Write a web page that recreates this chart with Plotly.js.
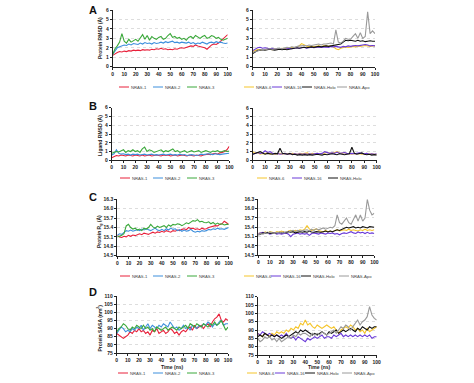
<!DOCTYPE html>
<html><head><meta charset="utf-8">
<script src="https://cdn.plot.ly/plotly-3.0.1.min.js"></script>
<style>html,body{margin:0;padding:0;background:#fff}#c{width:474px;height:383px}</style>
</head><body><div id="c"></div>
<script>
const time = [0,2,4,6,8,10,12,14,16,18,20,22,24,26,28,30,32,34,36,38,40,42,44,46,48,50,52,54,56,58,60,62,64,66,68,70,72,74,76,78,80,82,84,86,88,90,92,94,96,98,100];
const xTicks = [0,10,20,30,40,50,60,70,80,90,100];

// Panel A: Protein RMSD
const rmsdN1 = [1.2,1.4,1.5,1.6,1.55,1.65,1.6,1.7,1.65,1.75,1.7,1.75,1.7,1.8,1.75,1.8,1.75,1.85,1.8,1.9,1.85,1.95,1.85,1.9,1.8,1.85,1.8,1.9,1.85,1.95,2.0,1.95,2.05,2.1,2.2,2.15,2.3,2.2,2.15,2.05,2.0,1.85,2.1,2.3,2.4,2.35,2.5,2.7,2.9,3.1,3.4];
const rmsdN2 = [1.3,1.7,2.0,2.1,2.2,2.3,2.25,2.4,2.3,2.45,2.4,2.35,2.5,2.4,2.55,2.45,2.5,2.4,2.55,2.45,2.5,2.6,2.5,2.65,2.55,2.6,2.7,2.55,2.6,2.5,2.6,2.55,2.5,2.6,2.45,2.55,2.4,2.5,2.45,2.6,2.5,2.4,2.55,2.6,2.5,2.65,2.55,2.6,2.5,2.45,2.5];
const rmsdN3 = [1.3,1.9,2.2,2.6,3.5,2.7,2.5,2.9,2.6,2.8,2.9,2.7,3.1,3.4,2.9,3.3,2.8,3.2,3.0,2.9,3.1,3.2,2.9,3.0,3.3,3.5,3.1,3.2,3.0,3.1,2.9,3.0,2.8,3.1,3.2,3.0,3.3,3.1,3.0,3.2,3.3,3.0,3.1,3.3,3.2,3.0,3.1,2.9,2.8,2.9,3.0];
const rmsdN6 = [1.6,1.7,1.8,1.75,1.85,1.8,1.9,1.85,1.8,1.9,1.85,1.9,1.95,1.9,1.95,2.0,2.05,2.0,2.1,2.2,2.45,2.3,2.2,2.1,2.15,2.1,2.15,2.2,2.1,2.2,2.2,2.15,2.2,2.1,1.9,1.8,1.95,2.0,2.1,2.05,2.1,2.15,2.1,2.2,2.15,2.2,2.25,2.2,2.15,2.2,2.2];
const rmsdN16 = [1.7,1.9,2.0,2.05,1.95,2.0,1.95,1.9,1.95,1.85,1.9,1.85,1.9,1.85,1.9,1.95,1.9,1.95,2.0,1.95,2.0,2.05,1.95,2.0,2.05,2.0,2.05,2.1,2.05,2.1,2.1,2.05,2.15,2.1,2.15,2.1,2.05,2.15,2.1,2.2,2.15,2.2,2.25,2.2,2.25,2.3,2.35,2.3,2.2,2.25,2.2];
const rmsdHolo = [1.4,1.6,1.7,1.75,1.8,1.75,1.8,1.85,1.8,1.75,1.8,1.85,1.8,1.85,1.8,1.85,1.9,1.95,2.0,1.95,2.0,2.05,2.0,2.05,2.1,2.05,2.1,2.15,2.1,2.15,2.2,2.15,2.2,2.25,2.3,2.3,2.4,2.6,2.8,2.75,2.8,2.75,2.7,2.8,2.7,2.75,2.65,2.7,2.75,2.7,2.7];
const rmsdApo = [1.5,1.6,1.7,1.8,1.85,1.8,1.85,1.9,1.85,1.9,1.9,1.95,1.9,2.0,2.05,2.0,2.1,2.05,2.15,2.2,2.2,2.25,2.2,2.3,2.25,2.3,2.35,2.4,2.3,2.4,2.4,2.45,2.5,2.4,3.9,2.6,2.5,2.7,3.0,2.9,2.9,3.2,3.5,3.0,3.6,3.0,3.2,5.8,3.5,3.8,3.5];

// Panel B: Ligand RMSD
const ligN1 = [0.3,0.45,0.55,0.5,0.6,0.55,0.5,0.6,0.55,0.5,0.6,0.55,0.5,0.6,0.5,0.55,0.6,0.5,0.55,0.6,0.55,0.5,0.6,0.55,0.6,0.5,0.55,0.6,0.5,0.55,0.6,0.55,0.5,0.6,0.55,0.5,0.6,0.55,0.5,0.6,0.65,0.7,0.65,0.75,0.8,0.7,0.85,0.9,1.0,1.2,1.6];
const ligN2 = [0.6,0.75,1.2,0.8,0.7,0.75,0.65,0.7,0.6,0.7,0.65,0.7,0.6,0.65,0.7,0.6,0.65,0.7,0.6,0.65,0.6,0.65,0.7,0.6,0.65,0.7,0.6,0.65,0.6,0.7,0.6,0.65,0.55,0.6,0.65,0.6,0.55,0.6,0.7,0.65,0.7,0.75,0.7,0.65,0.75,0.7,0.65,0.7,0.75,0.8,0.8];
const ligN3 = [0.8,0.9,1.0,0.95,1.1,1.2,0.9,1.1,1.0,1.2,1.0,1.1,0.9,1.3,1.5,1.0,1.2,1.1,0.9,1.0,1.1,1.2,0.95,1.1,1.0,1.2,1.3,1.0,1.1,0.9,1.0,1.1,0.9,1.0,1.1,0.95,1.05,1.1,0.9,1.0,1.1,1.0,0.9,1.05,1.0,1.1,0.95,1.0,1.1,1.0,1.05];
const ligN6 = [1.0,0.8,0.9,0.7,0.8,0.75,0.9,0.7,0.8,0.7,0.75,0.8,0.7,0.8,0.75,0.7,0.8,0.75,0.7,0.8,0.75,0.8,0.85,0.7,0.8,0.75,0.8,0.7,0.75,0.8,0.9,0.85,0.8,0.9,1.0,0.85,0.8,0.9,0.75,0.8,0.7,0.8,0.75,0.8,0.7,0.75,0.8,0.7,0.75,0.7,0.7];
const ligN16 = [0.7,0.8,0.9,0.8,0.85,1.1,0.9,1.0,0.8,0.75,0.8,0.7,0.75,0.8,0.7,0.75,0.7,0.75,0.7,0.75,0.7,0.75,0.7,0.75,0.7,0.75,0.8,0.75,0.8,1.0,0.9,0.8,0.85,0.8,0.95,0.8,0.85,0.9,0.8,0.75,0.8,0.75,0.8,0.85,0.8,0.75,0.8,0.7,0.75,0.7,0.75];
const ligHolo = [0.7,0.8,0.9,1.0,0.85,0.7,0.8,0.75,0.7,0.8,0.75,1.4,0.8,0.75,0.7,0.8,0.65,0.7,0.6,0.65,0.6,0.65,0.6,0.65,0.6,0.65,0.7,0.65,0.6,0.7,0.65,0.7,0.75,0.7,0.65,0.75,0.7,0.65,0.7,0.75,1.5,0.8,0.7,0.75,0.85,0.7,0.65,0.7,0.6,0.65,0.6];

// Panel C: Protein Rg
const rgN1 = [15.15,15.1,15.08,15.12,15.1,15.15,15.12,15.16,15.14,15.18,15.2,15.17,15.22,15.2,15.18,15.22,15.25,15.22,15.26,15.24,15.28,15.25,15.3,15.27,15.25,15.3,15.28,15.32,15.3,15.34,15.36,15.33,15.4,15.36,15.38,15.34,15.36,15.33,15.38,15.35,15.36,15.4,15.42,15.44,15.46,15.45,15.5,15.52,15.6,15.55,15.5];
const rgN2 = [15.15,15.2,15.18,15.25,15.3,15.28,15.32,15.28,15.3,15.33,15.3,15.35,15.32,15.36,15.33,15.3,15.34,15.38,15.32,15.3,15.34,15.3,15.36,15.32,15.38,15.34,15.36,15.3,15.33,15.28,15.32,15.28,15.3,15.34,15.28,15.25,15.28,15.26,15.3,15.28,15.3,15.34,15.32,15.36,15.34,15.38,15.35,15.36,15.34,15.38,15.4];
const rgN3 = [15.1,15.12,15.15,15.2,15.45,15.5,15.4,15.35,15.38,15.32,15.35,15.3,15.38,15.35,15.4,15.5,15.42,15.38,15.44,15.4,15.42,15.46,15.4,15.48,15.44,15.5,15.48,15.52,15.5,15.46,15.5,15.55,15.52,15.58,15.62,15.6,15.65,15.58,15.6,15.56,15.55,15.58,15.52,15.56,15.5,15.54,15.5,15.52,15.48,15.5,15.5];
const rgN6 = [15.2,15.22,15.2,15.25,15.22,15.26,15.24,15.22,15.26,15.24,15.28,15.25,15.22,15.28,15.3,15.26,15.3,15.28,15.32,15.3,15.34,15.45,15.35,15.3,15.32,15.35,15.3,15.28,15.25,15.3,15.26,15.28,15.25,15.3,15.32,15.28,15.3,15.32,15.3,15.34,15.3,15.32,15.3,15.28,15.32,15.3,15.34,15.3,15.32,15.3,15.32];
const rgN16 = [15.2,15.22,15.24,15.2,15.22,15.18,15.2,15.22,15.18,15.2,15.18,15.2,15.22,15.18,15.1,15.18,15.2,15.22,15.18,15.2,15.18,15.2,15.14,15.2,15.22,15.2,15.18,15.22,15.2,15.18,15.22,15.2,15.22,15.18,15.2,15.16,15.2,15.22,15.2,15.24,15.26,15.22,15.2,15.25,15.22,15.24,15.2,15.24,15.2,15.22,15.2];
const rgHolo = [15.15,15.18,15.22,15.2,15.24,15.2,15.22,15.2,15.22,15.24,15.22,15.24,15.22,15.26,15.24,15.26,15.22,15.25,15.26,15.24,15.26,15.24,15.27,15.25,15.24,15.26,15.25,15.24,15.26,15.28,15.25,15.28,15.26,15.3,15.32,15.3,15.34,15.36,15.4,15.38,15.4,15.42,15.38,15.4,15.38,15.42,15.4,15.38,15.42,15.4,15.4];
const rgApo = [15.15,15.2,15.18,15.22,15.2,15.25,15.22,15.2,15.24,15.22,15.25,15.22,15.26,15.24,15.28,15.3,15.26,15.3,15.28,15.3,15.3,15.32,15.28,15.34,15.3,15.35,15.32,15.35,15.38,15.34,15.36,15.4,15.38,15.45,15.8,15.55,15.5,15.6,15.7,15.55,15.5,15.65,15.8,15.6,15.8,15.6,15.7,16.3,15.95,15.8,15.85];

// Panel D: Protein SASA
const sasaN1 = [87,86,85,84,85,86,88,87,89,88,90,88,89,87,88,86,89,88,90,87,88,89,87,88,90,89,87,88,86,88,89,88,90,91,89,92,90,91,92,90,92,93,91,94,96,97,99,95,94,96,95];
const sasaN2 = [87,89,91,90,88,89,88,90,89,91,90,92,89,91,93,90,92,91,90,92,91,93,92,91,94,92,90,91,89,90,92,90,91,89,92,91,90,92,91,93,92,94,93,91,93,92,94,95,92,93,93];
const sasaN3 = [88,90,91,93,92,90,89,91,90,92,91,90,92,90,91,89,90,88,91,90,89,90,91,89,90,91,90,89,91,90,91,92,90,93,92,91,93,92,91,93,92,91,93,92,94,92,93,95,92,89,91];
const sasaN6 = [88,87,86,88,87,86,88,87,89,88,89,88,90,89,91,90,92,91,94,93,96,93,94,92,91,93,92,91,92,93,92,91,92,90,88,90,91,92,91,93,92,90,91,89,90,88,91,89,90,91,92];
const sasaN16 = [88,87,89,88,87,88,87,86,87,86,87,86,88,86,85,86,84,86,85,84,83,85,84,85,86,85,86,87,85,86,86,85,87,86,87,88,86,87,86,87,86,87,86,87,86,87,86,87,85,86,86];
const sasaHolo = [86,87,86,88,87,86,87,86,87,86,85,86,87,86,87,88,89,88,90,89,90,89,88,87,88,87,88,89,88,87,89,88,89,90,88,89,90,89,90,91,90,89,91,90,92,91,90,92,91,92,92];
const sasaApo = [85,83,84,86,85,86,84,85,83,85,83,84,85,86,85,87,86,88,87,88,88,87,86,88,87,88,87,89,88,87,88,89,90,88,90,92,91,93,92,90,92,94,96,93,95,96,98,104,99,97,96];

const colors = {'NRAS-1':'#e8203a','NRAS-2':'#3d8fdc','NRAS-3':'#3aa83a','NRAS-6':'#f5c52a','NRAS-16':'#6a3ad8','NRAS-Holo':'#111111','NRAS-Apo':'#9a9a9a'};

const W = 474, H = 383;
const FONT = 'Liberation Sans, Arial, sans-serif';

// panel geometry in pixels: [x0,x1,yTop,yBottom]; legend: y and sample start x for each entry
const panels = [
  {px:[112.7,227.7,10,66.7], yr:[0,6], dt:1, fmt:'', series:[['NRAS-1',rmsdN1],['NRAS-2',rmsdN2],['NRAS-3',rmsdN3]], legY:87, legX:[119,153,187]},
  {px:[252.7,375,10,66.7], yr:[0,6], dt:1, fmt:'', series:[['NRAS-6',rmsdN6],['NRAS-16',rmsdN16],['NRAS-Holo',rmsdHolo],['NRAS-Apo',rmsdApo]], legY:87, legX:[244,272,302,337]},
  {px:[111.7,229.3,107.7,160.3], yr:[0,6], dt:1, fmt:'', series:[['NRAS-1',ligN1],['NRAS-2',ligN2],['NRAS-3',ligN3]], legY:178, legX:[120,153,187]},
  {px:[252.7,376.7,108.3,160.3], yr:[0,6], dt:1, fmt:'', series:[['NRAS-6',ligN6],['NRAS-16',ligN16],['NRAS-Holo',ligHolo]], legY:178, legX:[257,292,328]},
  {px:[117.3,228.7,199.3,255.7], yr:[14.5,16.3], dt:0.3, fmt:'.1f', series:[['NRAS-1',rgN1],['NRAS-2',rgN2],['NRAS-3',rgN3]], legY:276, legX:[120,153,187]},
  {px:[258.3,374.3,199.3,255.3], yr:[14.5,16.3], dt:0.3, fmt:'.1f', series:[['NRAS-6',rgN6],['NRAS-16',rgN16],['NRAS-Holo',rgHolo],['NRAS-Apo',rgApo]], legY:276, legX:[244,271,301,339]},
  {px:[116.7,228,296,353], yr:[75,110], dt:5, fmt:'', series:[['NRAS-1',sasaN1],['NRAS-2',sasaN2],['NRAS-3',sasaN3]], legY:373, legX:[118,153,187]},
  {px:[257.7,376.7,296.7,355], yr:[75,110], dt:5, fmt:'', series:[['NRAS-6',sasaN6],['NRAS-16',sasaN16],['NRAS-Holo',sasaHolo],['NRAS-Apo',sasaApo]], legY:373, legX:[247,275,305,342]}
];

const traces = [];
const layout = {
  width: W, height: H, margin:{l:0,r:0,t:0,b:0,autoexpand:false},
  paper_bgcolor:'#fff', plot_bgcolor:'#fff', showlegend:false,
  font:{family:FONT, size:5, color:'#222'},
  annotations:[], shapes:[]
};
const tickFont = {family:FONT, size:5, weight:'bold', color:'#222'};
const legFont = {family:FONT, size:4.2, color:'#444'};

panels.forEach((p,i)=>{
  const n = i+1;
  const xk = n===1?'xaxis':'xaxis'+n, yk = n===1?'yaxis':'yaxis'+n;
  const xr = n===1?'x':'x'+n, yr = n===1?'y':'y'+n;
  layout[xk] = {domain:[p.px[0]/W, p.px[1]/W], anchor:yr, range:[0,100], tickvals:xTicks, tickangle:0,
    showgrid:false, zeroline:false, showline:true, linecolor:'#222', linewidth:1,
    ticks:'outside', ticklen:2, tickcolor:'#222', tickfont:tickFont, fixedrange:true};
  layout[yk] = {domain:[1-p.px[3]/H, 1-p.px[2]/H], anchor:xr, range:p.yr, dtick:p.dt, tick0:p.yr[0], tickformat:p.fmt,
    showgrid:true, gridcolor:'#cfcfcf', griddash:'dot', gridwidth:0.7, zeroline:false, showline:true, linecolor:'#222', linewidth:1,
    ticks:'outside', ticklen:2, tickcolor:'#222', tickfont:tickFont, fixedrange:true};
  p.series.forEach(([name,vals],j)=>{
    traces.push({x:time, y:vals, xaxis:xr, yaxis:yr, type:'scatter', mode:'lines', name:name,
      line:{color:colors[name], width:1.1}});
    // legend entry: short line sample + label
    const lx = p.legX[j];
    layout.shapes.push({type:'line', xref:'paper', yref:'paper', x0:lx/W, x1:(lx+10)/W, y0:1-p.legY/H, y1:1-p.legY/H,
      line:{color:colors[name], width:1}});
    layout.annotations.push({text:name, x:(lx+11)/W, y:1-p.legY/H, xref:'paper', yref:'paper', showarrow:false,
      xanchor:'left', yanchor:'middle', font:legFont, borderpad:0});
  });
});

const ann = (text,x,y,opts)=>Object.assign({text:text, x:x/W, y:1-y/H, xref:'paper', yref:'paper', showarrow:false, xanchor:'center', yanchor:'middle', borderpad:0, font:{family:FONT, size:5, weight:'bold', color:'#222'}}, opts||{});
const letterFont = {family:FONT, size:11, weight:'bold', color:'#111'};
layout.annotations.push(
  ann('A',92.5,10,{font:letterFont}),
  ann('B',92.5,106,{font:letterFont}),
  ann('C',92.5,197,{font:letterFont}),
  ann('D',92.5,292,{font:letterFont}),
  ann('Protein RMSD (Å)',100,38,{textangle:-90}),
  ann('Ligand RMSD (Å)',100,136,{textangle:-90}),
  ann('Protein R<sub>g</sub> (Å)',99,232,{textangle:-90}),
  ann('Protein SASA (nm<sup>2</sup>)',99.5,328,{textangle:-90}),
  ann('Time (ns)',172,367),
  ann('Time (ns)',319,367)
);

Plotly.newPlot('c', traces, layout, {staticPlot:true, displayModeBar:false});
</script>
</body></html>
